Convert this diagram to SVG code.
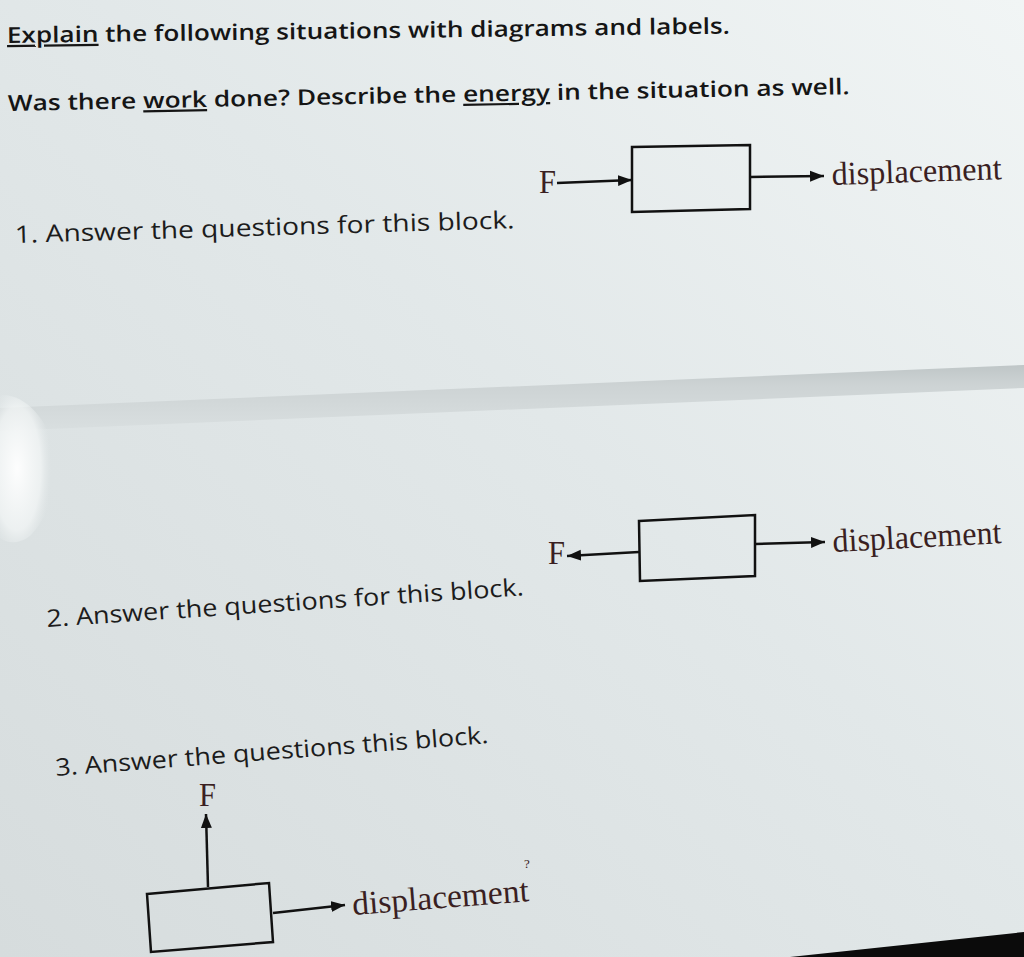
<svg xmlns="http://www.w3.org/2000/svg" width="1024" height="957" viewBox="0 0 1024 957">
  <defs>
    <linearGradient id="bg" x1="0" y1="1" x2="1" y2="0">
      <stop offset="0" stop-color="#d6dcdd"/>
      <stop offset="0.55" stop-color="#e2e8e9"/>
      <stop offset="1" stop-color="#f1f5f5"/>
    </linearGradient>
    <linearGradient id="band" x1="0" y1="0" x2="0" y2="1">
      <stop offset="0" stop-color="#bfc6c7"/>
      <stop offset="0.3" stop-color="#cdd3d4"/>
      <stop offset="1" stop-color="#d9dfe0"/>
    </linearGradient>
    <radialGradient id="glare" cx="0.3" cy="0.5" r="0.6">
      <stop offset="0" stop-color="#ffffff" stop-opacity="0.95"/>
      <stop offset="0.7" stop-color="#f4f7f7" stop-opacity="0.7"/>
      <stop offset="1" stop-color="#e6ebec" stop-opacity="0"/>
    </radialGradient>
    <marker id="ah" viewBox="0 0 14 12" refX="14" refY="6" markerWidth="14" markerHeight="12" markerUnits="userSpaceOnUse" orient="auto">
      <path d="M0,0.5 L14,6 L0,11.5 z" fill="#111"/>
    </marker>
    <style>
      .hdr { font-family: "Open Sans", "Liberation Sans", sans-serif; font-weight: 600; font-size: 22px; fill: #151515; }
      .q { font-family: "Open Sans", "Liberation Sans", sans-serif; font-weight: 400; font-size: 24px; fill: #1c1c1c; }
      .lab { font-family: "Liberation Serif", "Times New Roman", serif; font-size: 33px; fill: #3a1f22; }
      .box { fill: none; stroke: #111; stroke-width: 2.5; stroke-linejoin: miter; }
      .conn { stroke: #111; stroke-width: 2.5; fill: none; marker-end: url(#ah); }
      .u { text-decoration: underline; }
    </style>
  </defs>

  <g id="background">
    <rect x="0" y="0" width="1024" height="957" fill="url(#bg)"/>
    <polygon points="0,408 1024,365 1024,388 0,431" fill="url(#band)"/>
    <path d="M0,395 C25,393 48,420 55,450 C62,480 48,518 30,536 C18,545 6,543 0,538 Z" fill="url(#glare)"/>
    <polygon points="790,957 1024,932 1024,957" fill="#0b0b0b"/>
  </g>

  <g id="header">
    <text class="hdr" x="7" y="43" transform="rotate(-0.75 7 43)" textLength="723" lengthAdjust="spacingAndGlyphs"><tspan class="u">Explain</tspan> the following situations with diagrams and labels.</text>
    <text class="hdr" x="8" y="111" transform="rotate(-1.15 8 111)" textLength="842" lengthAdjust="spacingAndGlyphs">Was there <tspan class="u">work</tspan> done?  Describe the <tspan class="u">energy</tspan> in the situation as well.</text>
  </g>

  <g id="question1">
    <text class="q" x="15" y="243" transform="rotate(-1.7 15 243)" textLength="500" lengthAdjust="spacingAndGlyphs">1.  Answer the questions for this block.</text>
  </g>
  <g id="question2">
    <text class="q" x="47" y="627" transform="rotate(-3.8 47 627)" textLength="478" lengthAdjust="spacingAndGlyphs">2.  Answer the questions for this block.</text>
  </g>
  <g id="question3">
    <text class="q" x="56" y="776" transform="rotate(-4.35 56 776)" textLength="434" lengthAdjust="spacingAndGlyphs">3.  Answer the questions this block.</text>
  </g>

  <g id="block1">
    <polygon class="box" points="632,147 750,145 750,209 632,212"/>
    <text class="lab" x="539" y="193" textLength="17" lengthAdjust="spacingAndGlyphs">F</text>
    <text class="lab" x="832" y="185" transform="rotate(-2 832 185)" textLength="170" lengthAdjust="spacingAndGlyphs">displacement</text>
  </g>

  <g id="block2">
    <polygon class="box" points="639,521 755,515 755,576 640,581"/>
    <text class="lab" x="548" y="564" textLength="17" lengthAdjust="spacingAndGlyphs">F</text>
    <text class="lab" x="833" y="552" transform="rotate(-3 833 552)" textLength="169" lengthAdjust="spacingAndGlyphs">displacement</text>
  </g>

  <g id="block3">
    <polygon class="box" points="147,894 269,883 273,942 151,952"/>
    <text class="lab" x="199" y="806" textLength="17" lengthAdjust="spacingAndGlyphs">F</text>
    <text class="lab" x="353" y="915" transform="rotate(-4.5 353 915)" textLength="177" lengthAdjust="spacingAndGlyphs">displacement</text>
    <text class="lab" x="524" y="868" style="font-size:13px">?</text>
  </g>

  <g id="connectors">
    <line class="conn" x1="557" y1="183" x2="632" y2="180"/>
    <line class="conn" x1="750" y1="177" x2="824" y2="176"/>
    <line class="conn" x1="639" y1="552" x2="567" y2="556"/>
    <line class="conn" x1="755" y1="544" x2="825" y2="542"/>
    <line class="conn" x1="208" y1="887" x2="206" y2="814"/>
    <line class="conn" x1="273" y1="913" x2="345" y2="905"/>
  </g>
</svg>
